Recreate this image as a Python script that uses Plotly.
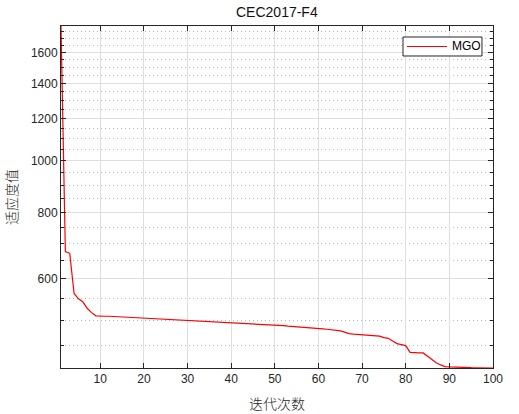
import plotly.graph_objects as go
import math

iterations = list(range(1, 101))
mgo_fitness = [
    1795, 675, 670, 563, 550, 543, 528, 518, 511, 510,
    510, 510, 509.5, 509, 508, 507.5, 507, 506.5, 506, 505,
    504.5, 504, 503.5, 503, 502.5, 502, 501.5, 501, 500.5, 500,
    499.5, 499, 498.5, 498, 497.5, 497.5, 497, 496.5, 496, 495.5,
    495, 495, 494.5, 494, 494, 493, 492.5, 492, 491.5, 491,
    490.5, 489.5, 488.5, 488, 487.5, 487, 485.5, 484.5, 484, 483.5,
    483, 482, 481, 480, 478.5, 476, 473, 472, 471.5, 471,
    470.5, 470, 469, 468, 465, 463.5, 458, 453, 451, 449,
    436, 435, 435, 435, 429, 422, 417, 413, 410, 409.5,
    409, 408.7, 408.4, 408.2, 408, 407.9, 407.8, 407.7, 407.6, 407.5,
]
x_ticks = [10, 20, 30, 40, 50, 60, 70, 80, 90, 100]
y_ticks = [600, 800, 1000, 1200, 1400, 1600]
y_minor = [v for v in range(450, 1800, 50) if v not in y_ticks]

title_text = "CEC2017-F4"
x_label = "迭代次数"
y_label = "适应度值"
series_name = "MGO"

ymin = min(mgo_fitness)
ymax = max(mgo_fitness)

FONT = "Liberation Sans, Arial, Helvetica, sans-serif"
CJK = "Noto Sans CJK SC, sans-serif"
AX = "#262626"
LINE_COLOR = "#ff0000"

fig = go.Figure()
fig.add_trace(go.Scatter(
    x=iterations, y=mgo_fitness, mode="lines", name=series_name,
    line=dict(color=LINE_COLOR, width=1.2), showlegend=False,
))

# legend box (MATLAB style), in paper coordinates
fig.add_shape(type="rect", xref="paper", yref="paper",
              x0=0.7917, x1=0.9745, y0=0.9123, y1=0.9678,
              line=dict(color=AX, width=1), fillcolor="white", layer="above")
fig.add_shape(type="line", xref="paper", yref="paper",
              x0=0.8009, x1=0.8935, y0=0.9401, y1=0.9401,
              line=dict(color=LINE_COLOR, width=1.2), layer="above")

fig.update_layout(
    width=519, height=414,
    margin=dict(l=61, r=26, t=26, b=46, autoexpand=False),
    paper_bgcolor="white", plot_bgcolor="white",
    font=dict(family=FONT, size=12, color=AX),
    showlegend=False,
    annotations=[
        dict(text=title_text, x=0.5, y=1, xref="paper", yref="paper",
             xanchor="center", yanchor="bottom", yshift=4, showarrow=False,
             font=dict(family=FONT, size=14, color="#111111")),
        dict(text=x_label, x=0.5, y=0, xref="paper", yref="paper",
             xanchor="center", yanchor="top", yshift=-23, showarrow=False,
             font=dict(family=CJK, size=14, color=AX, weight=300)),
        dict(text=y_label, x=0, y=0.5, xref="paper", yref="paper",
             xanchor="right", yanchor="middle", xshift=-38, showarrow=False,
             textangle=-90, font=dict(family=CJK, size=14, color=AX, weight=300)),
        dict(text=series_name, x=0.9005, y=0.9401, xref="paper", yref="paper",
             xanchor="left", yanchor="middle", showarrow=False,
             font=dict(family=FONT, size=12, color="black")),
    ],
)

fig.update_xaxes(
    range=[1, 100], tickvals=x_ticks, ticks="inside", ticklen=5,
    tickcolor=AX, showline=True, linecolor=AX, linewidth=1, mirror="allticks",
    showgrid=True, gridcolor="#dedede", gridwidth=1, zeroline=False,
    tickfont=dict(family=FONT, size=12, color=AX), automargin=False,
)
fig.update_yaxes(
    type="log", range=[math.log10(ymin), math.log10(ymax)],
    tickvals=y_ticks, ticktext=[str(v) for v in y_ticks],
    ticks="inside", ticklen=5, tickcolor=AX,
    showline=True, linecolor=AX, linewidth=1, mirror="allticks",
    showgrid=True, gridcolor="#dedede", gridwidth=1, zeroline=False,
    tickfont=dict(family=FONT, size=12, color=AX), automargin=False,
    minor=dict(tickmode="array", tickvals=y_minor, ticks="inside", ticklen=3,
               tickcolor=AX, showgrid=True, gridcolor="#b8b8b8",
               griddash="1px,3px", gridwidth=1),
)

fig.write_html(
    "out.html",
    config={"displayModeBar": False},
    post_script="document.body.style.margin='0';document.body.style.overflow='hidden';",
)
